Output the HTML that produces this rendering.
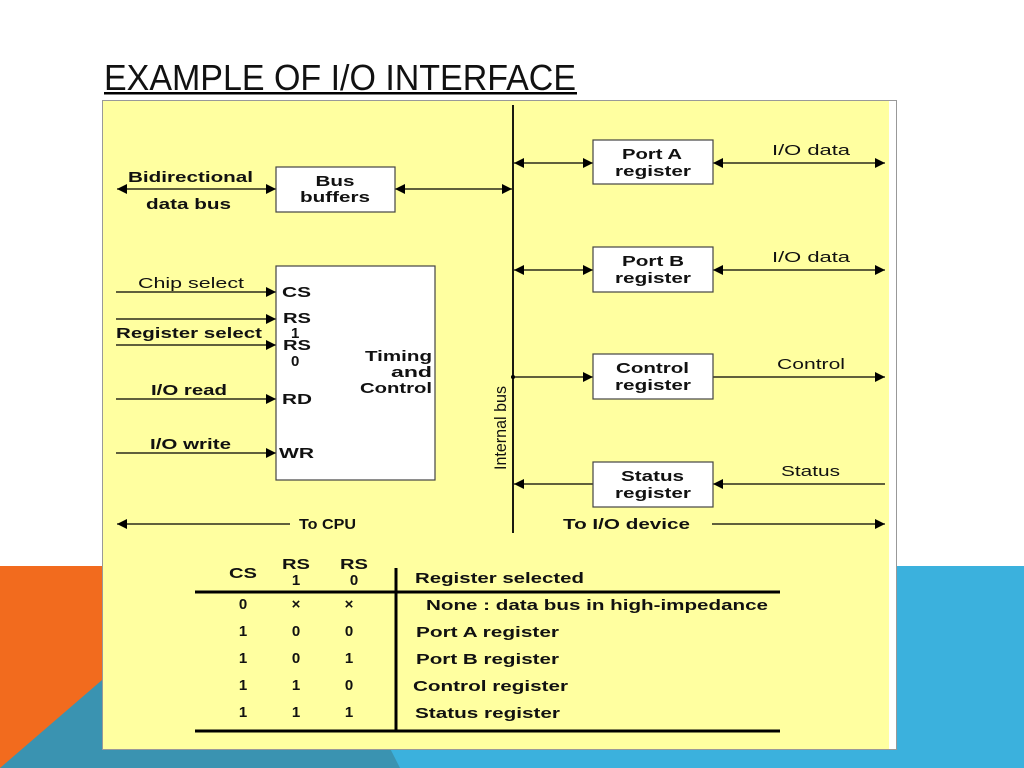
<!DOCTYPE html>
<html><head><meta charset="utf-8"><style>
html,body{margin:0;padding:0;background:#fff;}
svg{display:block;}
text{font-family:"Liberation Sans",Arial,sans-serif;font-weight:bold;fill:#111;}
.n{font-weight:normal;}
</style></head><body>
<svg width="1024" height="768" viewBox="0 0 1024 768" xmlns="http://www.w3.org/2000/svg">
<defs>
<marker id="a" viewBox="0 0 10 10" refX="10" refY="5" markerWidth="13" markerHeight="10" markerUnits="userSpaceOnUse" orient="auto-start-reverse"><path d="M0,0 L10,5 L0,10 z" fill="#000"/></marker>
</defs>
<rect width="1024" height="768" fill="#fff"/>
<rect x="0" y="566" width="420" height="202" fill="#F26B1E"/>
<rect x="380" y="566" width="644" height="202" fill="#3BB1DD"/>
<polygon points="0,768 160,630 330,630 400,768" fill="#3A93B1"/>
<text x="104" y="90" class="n" font-size="36" textLength="472" lengthAdjust="spacingAndGlyphs" style="font-family:'Liberation Sans Narrow','Liberation Sans',sans-serif">EXAMPLE OF I/O INTERFACE</text>
<rect x="104" y="92" width="473" height="2.5" fill="#000"/>
<rect x="102.5" y="100.5" width="794" height="649" fill="#fff" stroke="#999" stroke-width="1"/>
<rect x="103" y="101" width="786" height="648" fill="#FFFFA0"/>
<g stroke="#000" stroke-width="1.3" fill="none">
<line x1="513" y1="105" x2="513" y2="533" stroke-width="1.8"/>
<line x1="117" y1="189" x2="276" y2="189" marker-start="url(#a)" marker-end="url(#a)"/>
<line x1="395" y1="189" x2="512" y2="189" marker-start="url(#a)" marker-end="url(#a)"/>
<line x1="116" y1="292" x2="276" y2="292" marker-end="url(#a)"/>
<line x1="116" y1="319" x2="276" y2="319" marker-end="url(#a)"/>
<line x1="116" y1="345" x2="276" y2="345" marker-end="url(#a)"/>
<line x1="116" y1="399" x2="276" y2="399" marker-end="url(#a)"/>
<line x1="116" y1="453" x2="276" y2="453" marker-end="url(#a)"/>
<line x1="117" y1="524" x2="290" y2="524" marker-start="url(#a)"/>
<line x1="514" y1="163" x2="593" y2="163" marker-start="url(#a)" marker-end="url(#a)"/>
<line x1="713" y1="163" x2="885" y2="163" marker-start="url(#a)" marker-end="url(#a)"/>
<line x1="514" y1="270" x2="593" y2="270" marker-start="url(#a)" marker-end="url(#a)"/>
<line x1="713" y1="270" x2="885" y2="270" marker-start="url(#a)" marker-end="url(#a)"/>
<line x1="513" y1="377" x2="593" y2="377" marker-end="url(#a)"/>
<line x1="713" y1="377" x2="885" y2="377" marker-end="url(#a)"/>
<line x1="514" y1="484" x2="593" y2="484" marker-start="url(#a)"/>
<line x1="713" y1="484" x2="885" y2="484" marker-start="url(#a)"/>
<line x1="712" y1="524" x2="885" y2="524" marker-end="url(#a)"/>
</g>
<circle cx="513" cy="377" r="2" fill="#000"/>
<g fill="#fff" stroke="#444" stroke-width="1.2">
<rect x="276" y="167" width="119" height="45"/>
<rect x="276" y="266" width="159" height="214"/>
<rect x="593" y="140" width="120" height="44"/>
<rect x="593" y="247" width="120" height="45"/>
<rect x="593" y="354" width="120" height="45"/>
<rect x="593" y="462" width="120" height="45"/>
</g>
<g font-size="15" lengthAdjust="spacingAndGlyphs">
<text x="128" y="182" textLength="125" lengthAdjust="spacingAndGlyphs">Bidirectional</text>
<text x="146" y="209" textLength="85" lengthAdjust="spacingAndGlyphs">data bus</text>
<text x="335" y="186" text-anchor="middle" textLength="39" lengthAdjust="spacingAndGlyphs">Bus</text>
<text x="335" y="202" text-anchor="middle" textLength="70" lengthAdjust="spacingAndGlyphs">buffers</text>
<text x="138" y="288" class="n" textLength="106" lengthAdjust="spacingAndGlyphs">Chip select</text>
<text x="116" y="338" textLength="146" lengthAdjust="spacingAndGlyphs">Register select</text>
<text x="151" y="395" textLength="76" lengthAdjust="spacingAndGlyphs">I/O read</text>
<text x="150" y="449" textLength="81" lengthAdjust="spacingAndGlyphs">I/O write</text>
<text x="282" y="297" textLength="29" lengthAdjust="spacingAndGlyphs">CS</text>
<text x="283" y="323" textLength="28" lengthAdjust="spacingAndGlyphs">RS</text>
<text x="291" y="338">1</text>
<text x="283" y="350" textLength="28" lengthAdjust="spacingAndGlyphs">RS</text>
<text x="291" y="366">0</text>
<text x="282" y="404" textLength="30" lengthAdjust="spacingAndGlyphs">RD</text>
<text x="279" y="458" textLength="35" lengthAdjust="spacingAndGlyphs">WR</text>
<text x="365" y="361" textLength="67" lengthAdjust="spacingAndGlyphs">Timing</text>
<text x="391" y="377" textLength="41" lengthAdjust="spacingAndGlyphs">and</text>
<text x="360" y="393" textLength="72" lengthAdjust="spacingAndGlyphs">Control</text>
<text x="299" y="529" textLength="57" lengthAdjust="spacingAndGlyphs">To CPU</text>
<text x="563" y="529" textLength="127" lengthAdjust="spacingAndGlyphs">To I/O device</text>
<text x="622" y="159" textLength="60" lengthAdjust="spacingAndGlyphs">Port A</text>
<text x="615" y="176" textLength="76" lengthAdjust="spacingAndGlyphs">register</text>
<text x="622" y="266" textLength="62" lengthAdjust="spacingAndGlyphs">Port B</text>
<text x="615" y="283" textLength="76" lengthAdjust="spacingAndGlyphs">register</text>
<text x="616" y="373" textLength="73" lengthAdjust="spacingAndGlyphs">Control</text>
<text x="615" y="390" textLength="76" lengthAdjust="spacingAndGlyphs">register</text>
<text x="621" y="481" textLength="63" lengthAdjust="spacingAndGlyphs">Status</text>
<text x="615" y="498" textLength="76" lengthAdjust="spacingAndGlyphs">register</text>
<text x="772" y="155" class="n" textLength="78" lengthAdjust="spacingAndGlyphs">I/O data</text>
<text x="772" y="262" class="n" textLength="78" lengthAdjust="spacingAndGlyphs">I/O data</text>
<text x="777" y="369" class="n" textLength="68" lengthAdjust="spacingAndGlyphs">Control</text>
<text x="781" y="476" class="n" textLength="59" lengthAdjust="spacingAndGlyphs">Status</text>
<text class="n" transform="translate(506,428) rotate(-90)" text-anchor="middle" font-size="17" textLength="84" lengthAdjust="spacingAndGlyphs" style="font-family:'Liberation Sans Narrow','Liberation Sans',sans-serif">Internal bus</text>
</g>
<g stroke="#000">
<line x1="195" y1="592" x2="780" y2="592" stroke-width="3"/>
<line x1="195" y1="731" x2="780" y2="731" stroke-width="3"/>
<line x1="396" y1="568" x2="396" y2="731" stroke-width="3"/>
</g>
<g font-size="15" text-anchor="middle">
<text x="243" y="578" textLength="28" lengthAdjust="spacingAndGlyphs">CS</text>
<text x="296" y="569" textLength="28" lengthAdjust="spacingAndGlyphs">RS</text>
<text x="296" y="585">1</text>
<text x="354" y="569" textLength="28" lengthAdjust="spacingAndGlyphs">RS</text>
<text x="354" y="585">0</text>
<text x="243" y="609">0</text><text x="296" y="609">×</text><text x="349" y="609">×</text>
<text x="243" y="636">1</text><text x="296" y="636">0</text><text x="349" y="636">0</text>
<text x="243" y="663">1</text><text x="296" y="663">0</text><text x="349" y="663">1</text>
<text x="243" y="690">1</text><text x="296" y="690">1</text><text x="349" y="690">0</text>
<text x="243" y="717">1</text><text x="296" y="717">1</text><text x="349" y="717">1</text>
</g>
<g font-size="15">
<text x="415" y="583" textLength="169" lengthAdjust="spacingAndGlyphs">Register selected</text>
<text x="426" y="610" textLength="342" lengthAdjust="spacingAndGlyphs">None : data bus in high-impedance</text>
<text x="416" y="637" textLength="143" lengthAdjust="spacingAndGlyphs">Port A register</text>
<text x="416" y="664" textLength="143" lengthAdjust="spacingAndGlyphs">Port B register</text>
<text x="413" y="691" textLength="155" lengthAdjust="spacingAndGlyphs">Control register</text>
<text x="415" y="718" textLength="145" lengthAdjust="spacingAndGlyphs">Status register</text>
</g>
</svg>
</body></html>
